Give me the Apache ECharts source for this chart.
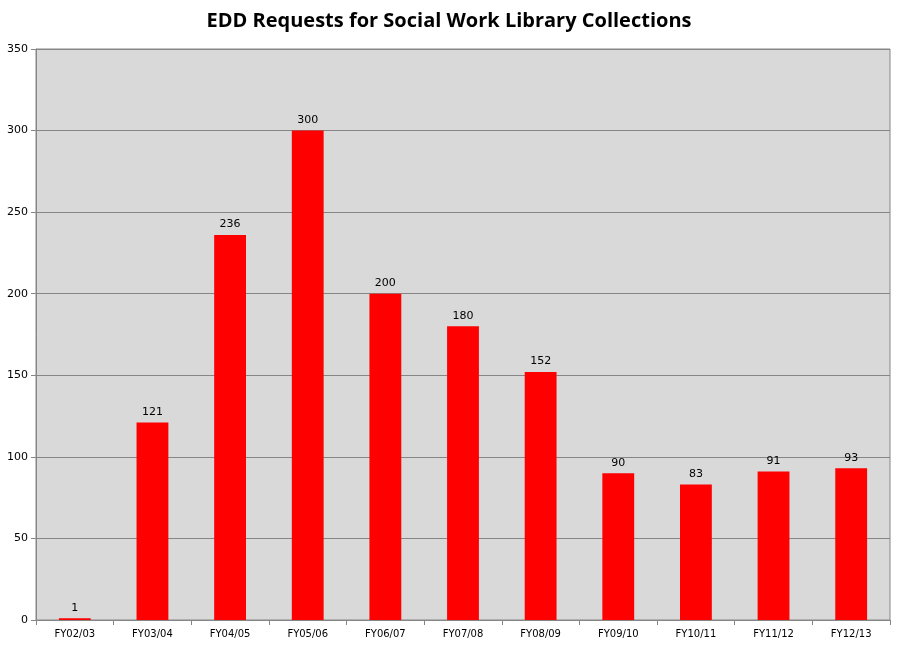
<!DOCTYPE html>
<html>
<head>
<meta charset="utf-8">
<script src="https://cdn.jsdelivr.net/npm/echarts@6/dist/echarts.min.js"></script>
<style>
  html, body { margin: 0; padding: 0; background: #fff; }
  #main { width: 898px; height: 654px; }
</style>
</head>
<body>
<div id="main"></div>
<script>
const categories = ['FY02/03', 'FY03/04', 'FY04/05', 'FY05/06', 'FY06/07', 'FY07/08',
  'FY08/09', 'FY09/10', 'FY10/11', 'FY11/12', 'FY12/13']
const requests = [1, 121, 236, 300, 200, 180, 152, 90, 83, 91, 93]

const myChart = echarts.init(document.getElementById('main'))

const option = {
  backgroundColor: '#ffffff',
  animation: false,
  title: {
    text: 'EDD Requests for Social Work Library Collections',
    left: 'center',
    top: 6,
    textStyle: {
      fontFamily: 'Open Sans',
      fontWeight: 'bold',
      fontSize: 20,
      color: '#000'
    }
  },
  grid: {
    left: 36,
    right: 8,
    top: 49,
    bottom: 34,
    show: true,
    backgroundColor: '#d9d9d9',
    borderColor: '#868686',
    borderWidth: 1
  },
  xAxis: {
    type: 'category',
    data: categories,
    axisLine: { lineStyle: { color: '#868686' } },
    axisTick: { show: true, length: 5, alignWithLabel: false, lineStyle: { color: '#868686' } },
    axisLabel: {
      color: '#000',
      fontFamily: 'DejaVu Sans',
      fontSize: 10,
      margin: 9
    }
  },
  yAxis: {
    type: 'value',
    min: 0,
    max: 350,
    interval: 50,
    axisLine: { show: true, lineStyle: { color: '#868686' } },
    axisTick: { show: true, length: 5, lineStyle: { color: '#868686' } },
    splitLine: { lineStyle: { color: '#868686', width: 1 } },
    axisLabel: {
      color: '#000',
      fontFamily: 'DejaVu Sans',
      fontSize: 11,
      margin: 8
    }
  },
  series: [{
    name: 'Requests',
    type: 'bar',
    data: requests,
    barWidth: '41%',
    itemStyle: { color: '#ff0000' },
    label: {
      show: true,
      position: 'top',
      distance: 5,
      color: '#000',
      fontFamily: 'DejaVu Sans',
      fontSize: 11
    }
  }]
}

myChart.setOption(option)
</script>
</body>
</html>
